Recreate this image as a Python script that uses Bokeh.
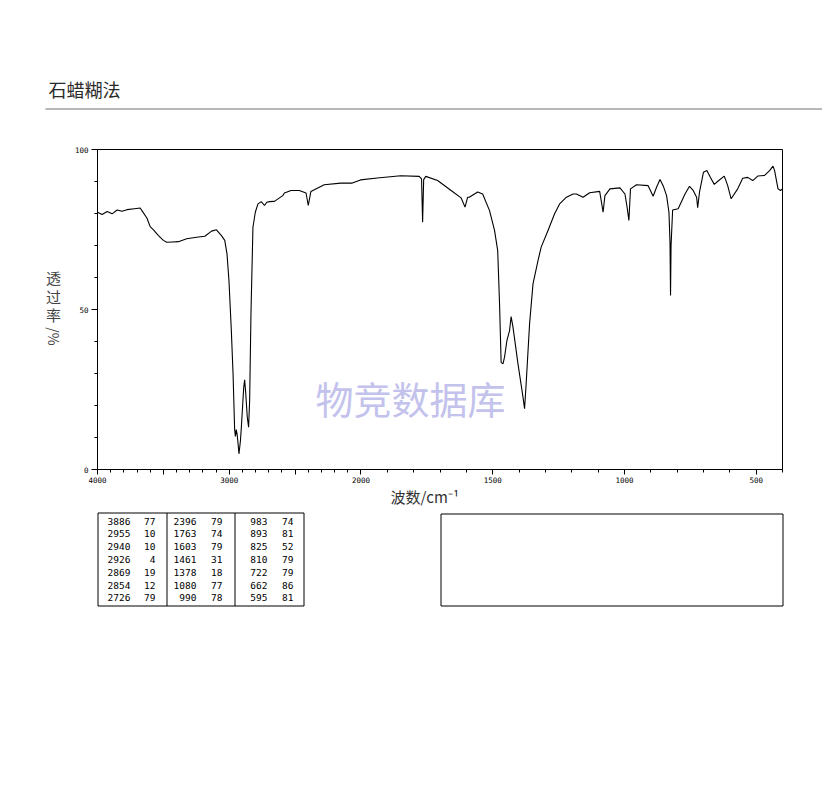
import numpy as np
from bokeh.plotting import figure
from bokeh.models import Range1d, FixedTicker
from bokeh.layouts import column, row
from bokeh.embed import file_html
from bokeh.resources import INLINE
from bokeh.core.properties import value

# ---------------- data ----------------
title_text = "石蜡糊法"
x_label = "波数/cm⁻¹"
y_label_chars = ["透", "过", "率"]
y_label_tail = "/%"
watermark = "物竞数据库"

wavenumber = [
    4000, 3965, 3927, 3889, 3851, 3814, 3776, 3720, 3676, 3663, 3625, 3600,
    3575, 3537, 3500, 3474, 3430, 3386, 3323, 3248, 3185, 3134, 3097, 3059,
    3034, 3017, 3002, 2984, 2971, 2959, 2953, 2947, 2940, 2935, 2926, 2915,
    2908, 2890, 2883, 2875, 2863, 2853, 2845, 2835, 2820, 2802, 2782, 2757,
    2732, 2715, 2694, 2657, 2594, 2581, 2531, 2468, 2417, 2400, 2380, 2279,
    2153, 2066, 2003, 1938, 1849, 1779, 1770, 1766, 1762, 1754, 1709, 1658,
    1620, 1605, 1595, 1589, 1557, 1538, 1512, 1493, 1481, 1474, 1468, 1461,
    1455, 1446, 1436, 1430, 1423, 1404, 1385, 1379, 1373, 1360, 1347, 1328,
    1316, 1290, 1265, 1246, 1220, 1195, 1182, 1157, 1132, 1094, 1087, 1081,
    1074, 1055, 1017, 998, 989, 983, 977, 954, 910, 891, 878, 865,
    853, 840, 831, 827, 825, 823, 817, 796, 770, 753, 739, 726,
    722, 715, 700, 687, 674, 659, 642, 621, 608, 595, 570, 551,
    532, 513, 494, 468, 449, 436, 430, 417, 408, 400,
]
transmittance = [
    80.4, 79.7, 80.6, 79.9, 81.1, 80.7, 81.2, 81.5, 81.7, 80.9, 78.6, 75.9,
    74.9, 73.1, 71.6, 71.0, 71.1, 71.2, 72.1, 72.6, 72.9, 74.5, 74.9, 73.1,
    71.6, 67.4, 59.0, 43.4, 29.9, 12.5, 10.3, 12.5, 11.0, 9.0, 4.9, 9.0,
    13.2, 25.7, 28.0, 24.0, 16.4, 13.2, 21.6, 48.7, 75.7, 80.4, 83.0, 83.7,
    82.5, 83.5, 83.7, 83.8, 85.6, 86.4, 87.2, 87.2, 86.4, 82.5, 86.9, 89.0,
    89.5, 89.5, 90.5, 91.1, 91.8, 91.6, 90.8, 77.3, 90.6, 91.6, 90.3, 87.2,
    84.9, 82.0, 85.1, 85.1, 86.7, 86.1, 80.9, 74.7, 68.4, 51.8, 33.5, 33.0,
    35.1, 40.3, 43.4, 47.8, 44.5, 33.0, 22.6, 19.0, 26.8, 45.5, 58.0, 65.3,
    69.5, 74.7, 79.9, 83.0, 85.1, 86.1, 86.1, 85.1, 86.5, 86.9, 83.5, 80.4,
    85.6, 87.7, 88.0, 86.1, 81.5, 77.8, 87.7, 89.0, 88.7, 85.4, 88.2, 90.6,
    88.7, 85.6, 80.4, 71.0, 54.4, 70.0, 81.1, 81.5, 86.1, 88.5, 87.2, 85.1,
    81.8, 86.7, 92.9, 93.4, 91.3, 89.1, 90.3, 91.7, 88.7, 84.6, 87.7, 91.0,
    91.3, 90.3, 91.7, 91.9, 93.4, 94.8, 93.4, 87.7, 87.2, 87.7,
]

xtick_wn = [4000, 3500, 3000, 2500, 2000, 1500, 1000, 500]
xtick_labels = ["4000", "", "3000", "", "2000", "1500", "1000", "500"]
xminor_wn = [3900, 3800, 3700, 3600, 3400, 3300, 3200, 3100, 2900, 2800,
             2700, 2600, 2400, 2300, 2200, 2100, 1900, 1800, 1700, 1600,
             1400, 1300, 1200, 1100, 900, 800, 700, 600, 400]
ytick_vals = [0, 50, 100]
ytick_labels = ["0", "50", "100"]
yminor_vals = [10, 20, 30, 40, 60, 70, 80, 90]

peak_wn = ["3886", "2955", "2940", "2926", "2869", "2854", "2726",
           "2396", "1763", "1603", "1461", "1378", "1080", "990",
           "983", "893", "825", "810", "722", "662", "595"]
peak_t = ["77", "10", "10", "4", "19", "12", "79",
          "79", "74", "79", "31", "18", "77", "78",
          "74", "81", "52", "79", "79", "86", "81"]


def to_u(w):
    """Split-scale wavenumber axis: 4000-2000 compressed 2x, 2000-400 linear."""
    w = np.asarray(w, dtype=float)
    return np.where(w >= 2000, (4000 - w) / 2.0, 3000 - w)


CJK = "Noto Sans CJK SC"
MONO = "DejaVu Sans Mono"


def blank_fig(width, height, x0, x1, y0, y1):
    f = figure(width=width, height=height, x_range=Range1d(x0, x1), y_range=Range1d(y1, y0),
               output_backend="svg", toolbar_location=None,
               x_axis_type=None, y_axis_type=None, min_border=0)
    f.outline_line_color = None
    f.frame_align = False
    return f


# ---------------- header (page y 0..128) ----------------
h = blank_fig(822, 128, 0, 822, 0, 128)
h.text(x=[48], y=[88], text=[title_text], text_font=value(CJK),
       text_font_size="18px", text_baseline="middle", text_align="left",
       text_color="#2a2a2a")
h.segment(x0=[45], y0=[108.5], x1=[822], y1=[108.5], line_color="#a0a0a0", line_width=1.6)

# ---------------- y label strip (page x 0..66, y 128..485) ----------------
yl = blank_fig(66, 357, 0, 66, 128, 485)
yl.text(x=[53, 53, 53], y=[277, 296, 314], text=y_label_chars, text_font=value(CJK),
        text_font_size="15px", text_align="center", text_baseline="middle",
        text_color="#444444")
yl.text(x=[53], y=[336], text=[y_label_tail], text_font=value(CJK),
        text_font_size="14px", text_align="center", text_baseline="middle",
        text_color="#444444", angle=-np.pi / 2)

# ---------------- spectrum (page x 66..822, y 128..485) ----------------
p = figure(width=756, height=357, x_range=Range1d(0, 2600), y_range=Range1d(0, 100),
           output_backend="svg", toolbar_location=None,
           min_border_left=31, min_border_right=40, min_border_top=21, min_border_bottom=16)
p.frame_align = False
p.grid.visible = False
p.outline_line_color = "black"
p.outline_line_width = 1
p.outline_line_alpha = 1

xt = [int(v) for v in to_u(xtick_wn)]
p.xaxis.ticker = FixedTicker(ticks=xt, minor_ticks=[int(v) for v in to_u(xminor_wn)])
p.xaxis.major_label_overrides = {k: lab for k, lab in zip(xt, xtick_labels)}
p.yaxis.ticker = FixedTicker(ticks=ytick_vals, minor_ticks=yminor_vals)
p.yaxis.major_label_overrides = {k: lab for k, lab in zip(ytick_vals, ytick_labels)}

for ax in (p.xaxis[0], p.yaxis[0]):
    ax.axis_line_color = "black"
    ax.major_tick_line_color = "black"
    ax.minor_tick_line_color = "black"
    ax.major_tick_in = 0
    ax.minor_tick_in = 0
    ax.minor_tick_out = 3
    ax.major_label_text_font = MONO
    ax.major_label_text_font_size = "7.5px"
    ax.major_label_text_color = "black"
p.xaxis.major_tick_out = 5
p.yaxis.major_tick_out = 6
p.xaxis.major_label_standoff = 2
p.yaxis.major_label_standoff = 3

# watermark
p.text(x=[1188], y=[22.5], text=[watermark], text_font=value(CJK),
       text_font_size="38px", text_align="center", text_baseline="middle",
       text_color="#c2c2ec")

p.line(to_u(wavenumber), transmittance, line_color="black", line_width=1.1)

# ---------------- x label + peak table (page y 485..620) ----------------
t = blank_fig(822, 135, 0, 822, 485, 620)
t.text(x=[424], y=[496], text=[x_label], text_font=value(CJK), text_font_size="15px",
       text_align="center", text_baseline="middle", text_color="#333333")
t.quad(left=[97.5, 440.5], right=[303.5, 782.5], top=[512.5, 513.5], bottom=[605.5, 605.5],
       fill_color=None, line_color="black", line_width=1)
t.segment(x0=[166.5, 234.5], y0=[512.5, 512.5], x1=[166.5, 234.5], y1=[605.5, 605.5],
          line_color="black", line_width=1)

col_wn_right = [130, 196, 267]
col_t_right = [155, 222, 293]
xs_w, xs_t, ys = [], [], []
for i in range(len(peak_wn)):
    c, r = divmod(i, 7)
    xs_w.append(col_wn_right[c])
    xs_t.append(col_t_right[c])
    ys.append(520.5 + r * 12.8)
t.text(x=xs_w, y=ys, text=peak_wn, text_font=value(MONO), text_font_size="9.5px",
       text_align="right", text_baseline="middle", text_color="black")
t.text(x=xs_t, y=ys, text=peak_t, text_font=value(MONO), text_font_size="9.5px",
       text_align="right", text_baseline="middle", text_color="black")

layout = column(h, row(yl, p, spacing=0), t, spacing=0)
open("out.html", "w").write(file_html(layout, INLINE))
